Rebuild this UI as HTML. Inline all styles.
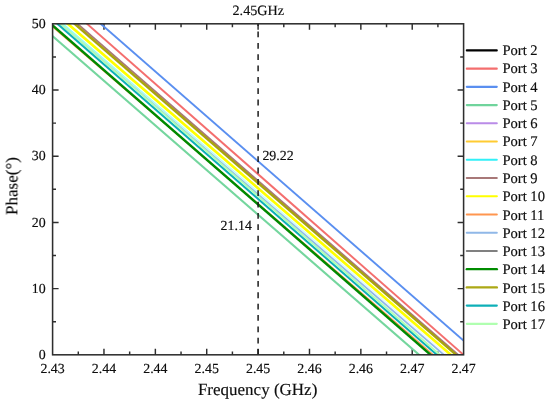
<!DOCTYPE html>
<html lang="en"><head><meta charset="utf-8"><title>Phase vs Frequency</title>
<style>html,body{margin:0;padding:0;background:#fff}body{width:550px;height:405px;overflow:hidden}svg{display:block}text{font-family:"Liberation Serif",serif;fill:#0a0a0a;stroke:#0a0a0a;stroke-width:0.14px;text-rendering:geometricPrecision}</style></head><body>
<svg width="550" height="405" viewBox="0 0 550 405">
<rect width="550" height="405" fill="#fff"/>
<defs><clipPath id="plot"><rect x="52.6" y="23.8" width="411.00" height="331.00"/></clipPath><linearGradient id="cy" gradientUnits="userSpaceOnUse" x1="60" y1="24" x2="447" y2="355"><stop offset="0" stop-color="#8cfff0"/><stop offset="0.5" stop-color="#c0fff8"/><stop offset="1" stop-color="#f2f4ff"/></linearGradient><filter id="soft" x="0" y="0" width="550" height="405" filterUnits="userSpaceOnUse"><feGaussianBlur stdDeviation="0.35"/></filter></defs>
<g filter="url(#soft)">
<path d="M78.29 354.8v-3.4M78.29 23.8v3.4M103.97 354.8v-6M103.97 23.8v6M129.66 354.8v-3.4M129.66 23.8v3.4M155.35 354.8v-6M155.35 23.8v6M181.04 354.8v-3.4M181.04 23.8v3.4M206.72 354.8v-6M206.72 23.8v6M232.41 354.8v-3.4M232.41 23.8v3.4M258.10 354.8v-6M258.10 23.8v6M283.79 354.8v-3.4M283.79 23.8v3.4M309.48 354.8v-6M309.48 23.8v6M335.16 354.8v-3.4M335.16 23.8v3.4M360.85 354.8v-6M360.85 23.8v6M386.54 354.8v-3.4M386.54 23.8v3.4M412.23 354.8v-6M412.23 23.8v6M437.91 354.8v-3.4M437.91 23.8v3.4M52.6 321.70h3.4M463.6 321.70h-3.4M52.6 288.60h6M463.6 288.60h-6M52.6 255.50h3.4M463.6 255.50h-3.4M52.6 222.40h6M463.6 222.40h-6M52.6 189.30h3.4M463.6 189.30h-3.4M52.6 156.20h6M463.6 156.20h-6M52.6 123.10h3.4M463.6 123.10h-3.4M52.6 90.00h6M463.6 90.00h-6M52.6 56.90h3.4M463.6 56.90h-3.4" stroke="#2e2e2e" stroke-width="1.45" fill="none"/>
<g clip-path="url(#plot)" fill="none" stroke-linecap="butt">
<line x1="82.49" y1="19.84" x2="468.01" y2="358.76" stroke="#f46e6e" stroke-width="1.9"/>
<line x1="96.18" y1="19.85" x2="468.12" y2="344.55" stroke="#5a8ff0" stroke-width="1.9"/>
<line x1="47.97" y1="32.16" x2="423.63" y2="358.74" stroke="#74d69e" stroke-width="2.1"/>
<line x1="58.46" y1="19.88" x2="451.54" y2="358.72" stroke="url(#cy)" stroke-width="1.5"/>
<line x1="72.97" y1="19.86" x2="462.73" y2="358.74" stroke="#a87878" stroke-width="1.8"/>
<line x1="63.26" y1="19.88" x2="455.34" y2="358.72" stroke="#ffff00" stroke-width="2.7"/>
<line x1="47.95" y1="22.88" x2="437.85" y2="358.72" stroke="#ff9a58" stroke-width="1.4"/>
<line x1="55.86" y1="19.88" x2="448.44" y2="358.72" stroke="#90b8ea" stroke-width="1.8"/>
<line x1="47.98" y1="21.36" x2="435.12" y2="358.74" stroke="#008a00" stroke-width="2.45"/>
<line x1="70.07" y1="19.87" x2="460.63" y2="358.73" stroke="#a8a410" stroke-width="2.45"/>
<line x1="52.88" y1="19.86" x2="441.42" y2="358.74" stroke="#0cb0b8" stroke-width="2.05"/>
<line x1="56.18" y1="19.85" x2="444.42" y2="358.75" stroke="#b0ffb4" stroke-width="1.9"/>
<line x1="258.10" y1="20.2" x2="258.10" y2="354.8" stroke="#1a1a1a" stroke-width="1.5" stroke-dasharray="5.8 5.54"/>
</g>
<rect x="52.6" y="23.8" width="411.00" height="331.00" fill="none" stroke="#2e2e2e" stroke-width="1.55"/>
<g font-size="13.9">
<text x="52.60" y="372.9" text-anchor="middle">2.43</text>
<text x="103.97" y="372.9" text-anchor="middle">2.44</text>
<text x="155.35" y="372.9" text-anchor="middle">2.44</text>
<text x="206.72" y="372.9" text-anchor="middle">2.45</text>
<text x="258.10" y="372.9" text-anchor="middle">2.45</text>
<text x="309.48" y="372.9" text-anchor="middle">2.46</text>
<text x="360.85" y="372.9" text-anchor="middle">2.46</text>
<text x="412.23" y="372.9" text-anchor="middle">2.47</text>
<text x="463.60" y="372.9" text-anchor="middle">2.47</text>
<text x="45.6" y="358.95" text-anchor="end">0</text>
<text x="45.6" y="292.75" text-anchor="end">10</text>
<text x="45.6" y="226.55" text-anchor="end">20</text>
<text x="45.6" y="160.35" text-anchor="end">30</text>
<text x="45.6" y="94.15" text-anchor="end">40</text>
<text x="45.6" y="27.95" text-anchor="end">50</text>
<text x="262.4" y="159.5">29.22</text>
<text x="220.6" y="229.8">21.14</text>
</g>
<text x="258.3" y="14.5" font-size="14.2" text-anchor="middle">2.45GHz</text>
<text x="257.6" y="395" font-size="17" text-anchor="middle">Frequency (GHz)</text>
<text transform="translate(17.4 186) rotate(-90)" font-size="17" text-anchor="middle">Phase(°)</text>
<g font-size="14.6">
<line x1="466.8" y1="50.40" x2="496.8" y2="50.40" stroke="#000000" stroke-width="2.1" stroke-linecap="round"/>
<text x="502.4" y="55.10">Port 2</text>
<line x1="466.8" y1="68.63" x2="496.8" y2="68.63" stroke="#f46e6e" stroke-width="2.1" stroke-linecap="round"/>
<text x="502.4" y="73.37">Port 3</text>
<line x1="466.8" y1="86.86" x2="496.8" y2="86.86" stroke="#5a8ff0" stroke-width="2.1" stroke-linecap="round"/>
<text x="502.4" y="91.64">Port 4</text>
<line x1="466.8" y1="105.09" x2="496.8" y2="105.09" stroke="#70d49c" stroke-width="2.1" stroke-linecap="round"/>
<text x="502.4" y="109.91">Port 5</text>
<line x1="466.8" y1="123.32" x2="496.8" y2="123.32" stroke="#ba8ce8" stroke-width="2.1" stroke-linecap="round"/>
<text x="502.4" y="128.18">Port 6</text>
<line x1="466.8" y1="141.55" x2="496.8" y2="141.55" stroke="#ffcb30" stroke-width="2.1" stroke-linecap="round"/>
<text x="502.4" y="146.45">Port 7</text>
<line x1="466.8" y1="159.78" x2="496.8" y2="159.78" stroke="#30f0f8" stroke-width="2.1" stroke-linecap="round"/>
<text x="502.4" y="164.72">Port 8</text>
<line x1="466.8" y1="178.01" x2="496.8" y2="178.01" stroke="#a87878" stroke-width="2.1" stroke-linecap="round"/>
<text x="502.4" y="182.99">Port 9</text>
<line x1="466.8" y1="196.24" x2="496.8" y2="196.24" stroke="#ffff00" stroke-width="2.2" stroke-linecap="round"/>
<text x="502.4" y="201.26">Port 10</text>
<line x1="466.8" y1="214.47" x2="496.8" y2="214.47" stroke="#ff9650" stroke-width="2.1" stroke-linecap="round"/>
<text x="502.4" y="219.53">Port 11</text>
<line x1="466.8" y1="232.70" x2="496.8" y2="232.70" stroke="#90b8e8" stroke-width="2.1" stroke-linecap="round"/>
<text x="502.4" y="237.80">Port 12</text>
<line x1="466.8" y1="250.93" x2="496.8" y2="250.93" stroke="#808080" stroke-width="2.1" stroke-linecap="round"/>
<text x="502.4" y="256.07">Port 13</text>
<line x1="466.8" y1="269.16" x2="496.8" y2="269.16" stroke="#008c00" stroke-width="2.4" stroke-linecap="round"/>
<text x="502.4" y="274.34">Port 14</text>
<line x1="466.8" y1="287.39" x2="496.8" y2="287.39" stroke="#aca814" stroke-width="2.4" stroke-linecap="round"/>
<text x="502.4" y="292.61">Port 15</text>
<line x1="466.8" y1="305.62" x2="496.8" y2="305.62" stroke="#10b0b8" stroke-width="2.2" stroke-linecap="round"/>
<text x="502.4" y="310.88">Port 16</text>
<line x1="466.8" y1="323.85" x2="496.8" y2="323.85" stroke="#b0ffb0" stroke-width="2.1" stroke-linecap="round"/>
<text x="502.4" y="329.15">Port 17</text>
</g>
</g>
</svg></body></html>
